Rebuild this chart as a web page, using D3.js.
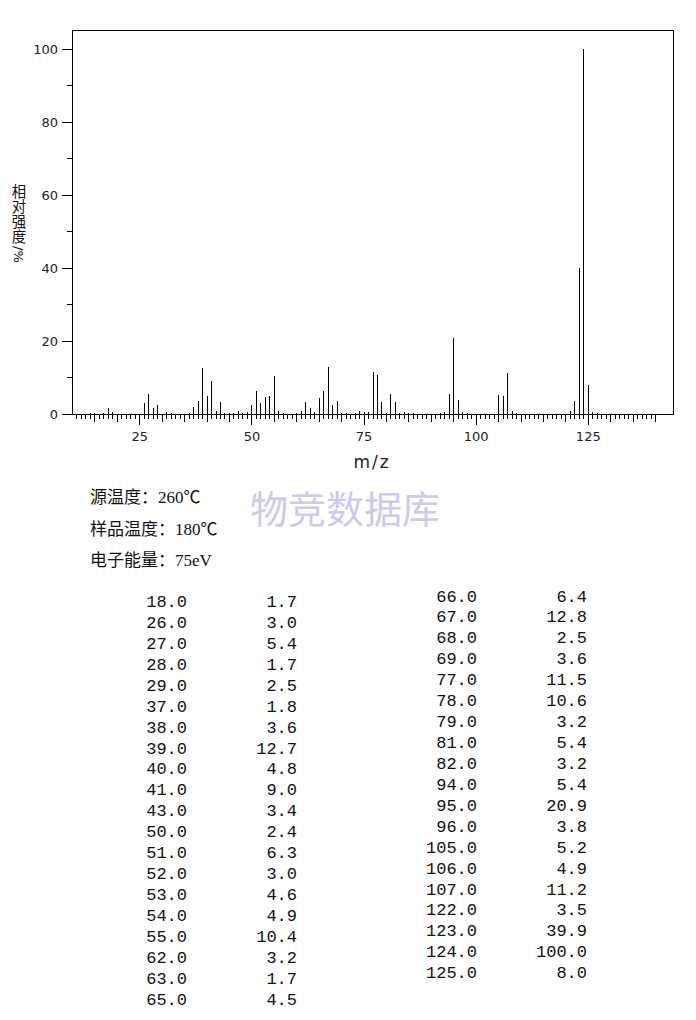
<!DOCTYPE html>
<html>
<head>
<meta charset="utf-8">
<script src="https://cdn.jsdelivr.net/npm/d3@7"></script>
<style>
  html, body { margin: 0; padding: 0; background: #fff; }
  svg { display: block; }
</style>
</head>
<body>
<svg id="chart" width="696" height="1020"></svg>
<script>
// Listed peaks (m/z, relative intensity %)
const peakMz = [18, 26, 27, 28, 29, 37, 38, 39, 40, 41, 43, 50, 51, 52, 53, 54, 55, 62, 63, 65,
                66, 67, 68, 69, 77, 78, 79, 81, 82, 94, 95, 96, 105, 106, 107, 122, 123, 124, 125];
const peakInt = [1.7, 3.0, 5.4, 1.7, 2.5, 1.8, 3.6, 12.7, 4.8, 9.0, 3.4, 2.4, 6.3, 3.0, 4.6, 4.9, 10.4, 3.2, 1.7, 4.5,
                 6.4, 12.8, 2.5, 3.6, 11.5, 10.6, 3.2, 5.4, 3.2, 5.4, 20.9, 3.8, 5.2, 4.9, 11.2, 3.5, 39.9, 100.0, 8.0];
// Minor peaks visible in the plot but not in the table (estimated)
const minorMz  = [14, 15, 17, 19, 31, 32, 36, 42, 44, 45, 46, 47, 48, 49, 56, 57, 60, 61, 64, 70,
                  71, 73, 74, 75, 76, 80, 83, 84, 85, 86, 92, 93, 97, 98, 108, 109, 121, 126, 127];
const minorInt = [0.3, 0.3, 0.3, 0.45, 0.55, 0.3, 0.3, 0.8, 0.4, 0.35, 0.3, 0.85, 0.3, 0.55, 0.85, 0.35, 0.35, 0.8, 0.55, 0.3,
                  0.3, 0.3, 0.8, 0.6, 0.5, 0.35, 0.3, 0.5, 0.3, 0.3, 0.3, 0.5, 0.5, 0.3, 0.8, 0.35, 0.8, 0.55, 0.3];
const xTickLabels = [25, 50, 75, 100, 125];
const yTickLabels = [0, 20, 40, 60, 80, 100];
const infoLines = ["源温度：260℃", "样品温度：180℃", "电子能量：75eV"];
const yTitleText = "相对强度";
const yTitleUnit = "/%";

const svg = d3.select("#chart");
const L = 72, R = 673, T = 30, B = 414;
const x = d3.scaleLinear().domain([10, 144]).range([L, R]);
const y = d3.scaleLinear().domain([0, 105.2]).range([B, T]);

const axisFont = "'DejaVu Sans', Verdana, sans-serif";

// peaks
const allPeaks = peakMz.map((m, i) => ({m, v: peakInt[i]}))
  .concat(minorMz.map((m, i) => ({m, v: minorInt[i]})));
svg.append("g").selectAll("line").data(allPeaks).join("line")
  .attr("x1", d => Math.round(x(d.m)) + 0.5)
  .attr("x2", d => Math.round(x(d.m)) + 0.5)
  .attr("y1", B)
  .attr("y2", d => y(d.v))
  .attr("stroke", "#000").attr("stroke-width", 1)
  .attr("shape-rendering", "crispEdges");

// x ticks (every integer, hanging below baseline)
const xt = d3.range(11, 141);
svg.append("g").selectAll("line").data(xt).join("line")
  .attr("x1", d => Math.round(x(d)) + 0.5)
  .attr("x2", d => Math.round(x(d)) + 0.5)
  .attr("y1", B)
  .attr("y2", d => B + (d % 25 === 0 ? 11 : d % 5 === 0 ? 7.5 : 5))
  .attr("stroke", "#000").attr("shape-rendering", "crispEdges");

svg.append("g").selectAll("text").data(xTickLabels).join("text")
  .attr("x", d => x(d) + 0.5)
  .attr("y", 441)
  .attr("text-anchor", "middle")
  .attr("font-family", axisFont).attr("font-size", 13).attr("fill", "#222")
  .text(d => d);

// y ticks
const yt = d3.range(0, 101, 10);
svg.append("g").selectAll("line").data(yt).join("line")
  .attr("x1", L)
  .attr("x2", d => L - (d % 20 === 0 ? 10 : 5))
  .attr("y1", d => Math.round(y(d)) + 0.5)
  .attr("y2", d => Math.round(y(d)) + 0.5)
  .attr("stroke", "#000").attr("shape-rendering", "crispEdges");

svg.append("g").selectAll("text").data(yTickLabels).join("text")
  .attr("x", 58)
  .attr("y", d => Math.round(y(d)) + 5)
  .attr("text-anchor", "end")
  .attr("font-family", axisFont).attr("font-size", 13).attr("fill", "#222")
  .text(d => d);

// frame
svg.append("rect")
  .attr("x", L + 0.5).attr("y", T + 0.5)
  .attr("width", R - L).attr("height", B - T)
  .attr("fill", "none").attr("stroke", "#000").attr("stroke-width", 1)
  .attr("shape-rendering", "crispEdges");

// axis titles
svg.append("text")
  .attr("x", 372).attr("y", 468)
  .attr("text-anchor", "middle")
  .attr("font-family", axisFont).attr("font-size", 17).attr("letter-spacing", 2).attr("fill", "#222")
  .text("m/z");

const cjk = "'Noto Sans CJK SC', sans-serif";
svg.append("text")
  .attr("x", 19).attr("y", 184)
  .attr("style", "writing-mode: vertical-rl; text-orientation: upright;")
  .attr("dominant-baseline", "central")
  .attr("letter-spacing", 0.6)
  .attr("font-family", cjk).attr("font-size", 14.4).attr("fill", "#111")
  .text(yTitleText);
svg.append("text")
  .attr("transform", "translate(13.5,246) rotate(90)")
  .attr("font-family", axisFont).attr("font-size", 13).attr("fill", "#111")
  .text(yTitleUnit);

// info text
svg.append("g").selectAll("text").data(infoLines).join("text")
  .attr("x", 90).attr("y", (d, i) => 503 + i * 31.5)
  .attr("font-family", "'Liberation Serif', 'Noto Sans CJK SC', serif")
  .attr("font-size", 17).attr("fill", "#111")
  .text(d => d);

// watermark
svg.append("text")
  .attr("x", 250).attr("y", 523)
  .attr("font-family", cjk).attr("font-size", 38).attr("fill", "#cbcbee")
  .text("物竞数据库");

// table
const mono = "'Liberation Mono', 'DejaVu Sans Mono', monospace";
const rows = peakMz.map((m, i) => ({m, v: peakInt[i]}));
const leftRows = rows.slice(0, 20), rightRows = rows.slice(20);
const pitch = 20.93;
function drawCol(data, x0, x1, yStart) {
  const g = svg.append("g").attr("font-family", mono).attr("font-size", 17).attr("fill", "#111");
  g.selectAll("text.m").data(data).join("text").attr("class", "m")
    .attr("x", x0).attr("y", (d, i) => yStart + i * pitch)
    .attr("text-anchor", "end").text(d => d.m.toFixed(1));
  g.selectAll("text.v").data(data).join("text").attr("class", "v")
    .attr("x", x1).attr("y", (d, i) => yStart + i * pitch)
    .attr("text-anchor", "end").text(d => d.v.toFixed(1));
}
drawCol(leftRows, 187, 297, 607);
drawCol(rightRows, 477, 587, 601.5);
</script>
</body>
</html>
